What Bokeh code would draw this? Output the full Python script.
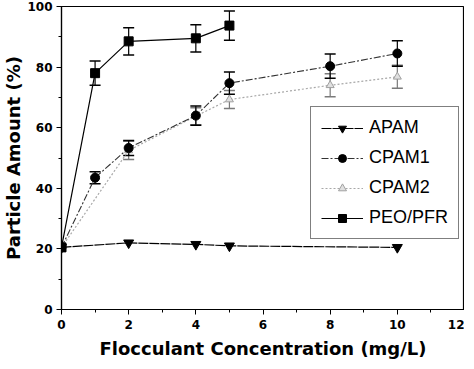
from bokeh.plotting import figure
from bokeh.models import (ColumnDataSource, Whisker, TeeHead, Legend, LegendItem,
                          SingleIntervalTicker, Range1d)
from bokeh.embed import file_html
from bokeh.resources import INLINE

# ---- data ----
x_apam = [0, 2, 4, 5, 10]
y_apam = [20.5, 22.0, 21.5, 21.0, 20.5]

x_cpam1 = [0, 1, 2, 4, 5, 8, 10]
y_cpam1 = [20.5, 43.5, 53.3, 64.0, 74.7, 80.3, 84.5]
e_cpam1 = [0, 2.0, 2.5, 3.2, 3.7, 4.0, 4.2]

x_cpam2 = [0, 2, 4, 5, 8, 10]
y_cpam2 = [20.5, 52.5, 63.8, 69.3, 74.0, 76.8]
e_cpam2 = [0, 3.0, 2.8, 3.0, 3.8, 3.8]

x_peo = [0, 1, 2, 4, 5]
y_peo = [20.5, 78.0, 88.5, 89.5, 93.7]
e_peo = [0, 4.0, 4.5, 4.5, 4.8]

labels = ["APAM", "CPAM1", "CPAM2", "PEO/PFR"]

FONT = "DejaVu Sans"

p = figure(width=464, height=361, output_backend="svg", toolbar_location=None,
           x_range=Range1d(0, 12), y_range=Range1d(0, 100),
           min_border_left=58, min_border_right=0, min_border_top=6, min_border_bottom=40)
p.xgrid.visible = False
p.ygrid.visible = False
p.outline_line_color = "black"
p.outline_line_width = 1.2
p.background_fill_color = "white"
p.border_fill_color = "white"

for ax, interval in ((p.xaxis[0], 2), (p.yaxis[0], 20)):
    ax.ticker = SingleIntervalTicker(interval=interval, num_minor_ticks=2)
    ax.axis_line_color = "black"
    ax.axis_line_width = 1.2
    ax.major_tick_line_color = "black"
    ax.minor_tick_line_color = "black"
    ax.major_tick_out = 5
    ax.major_tick_in = 0
    ax.minor_tick_out = 3
    ax.minor_tick_in = 0
    ax.major_label_text_font = FONT
    ax.major_label_text_font_style = "bold"
    ax.major_label_text_font_size = "12px"
    ax.major_label_text_color = "black"
    ax.axis_label_text_font = FONT
    ax.axis_label_text_font_style = "bold"
    ax.axis_label_text_color = "black"

p.xaxis.axis_label = "Flocculant Concentration (mg/L)"
p.xaxis.axis_label_text_font_size = "18px"
p.xaxis.major_label_standoff = 5
p.xaxis.axis_label_standoff = 6
p.yaxis.axis_label = "Particle Amount (%)"
p.yaxis.axis_label_text_font_size = "18px"
p.yaxis.major_label_standoff = 4
p.yaxis.axis_label_standoff = 0


def whiskers(xs, ys, es, color):
    xx = [x for x, e in zip(xs, es) if e > 0]
    lo = [y - e for y, e in zip(ys, es) if e > 0]
    hi = [y + e for y, e in zip(ys, es) if e > 0]
    src = ColumnDataSource(dict(x=xx, lower=lo, upper=hi))
    w = Whisker(base="x", lower="lower", upper="upper", source=src,
                line_color=color, line_width=1.2,
                upper_head=TeeHead(size=11, line_color=color, line_width=1.5),
                lower_head=TeeHead(size=11, line_color=color, line_width=1.5))
    p.add_layout(w)


whiskers(x_cpam2, y_cpam2, e_cpam2, "#7a7a7a")
whiskers(x_cpam1, y_cpam1, e_cpam1, "black")
whiskers(x_peo, y_peo, e_peo, "black")

l_cpam2 = p.line(x_cpam2, y_cpam2, line_color="#a8a8a8", line_width=1.2, line_dash="2 2")
m_cpam2 = p.scatter(x_cpam2, y_cpam2, marker="triangle", size=8, fill_color="#e0e0e0",
                    line_color="#a0a0a0", line_width=1)
l_cpam1 = p.line(x_cpam1, y_cpam1, line_color="#333333", line_width=1.1, line_dash="7 2 2 2")
m_cpam1 = p.scatter(x_cpam1, y_cpam1, marker="circle", size=9, fill_color="black",
                    line_color="black")
l_apam = p.line(x_apam, y_apam, line_color="black", line_width=1.2, line_dash="10 1")
m_apam = p.scatter(x_apam, y_apam, marker="inverted_triangle", size=10, fill_color="black",
                   line_color="black")
l_peo = p.line(x_peo, y_peo, line_color="black", line_width=1.2)
m_peo = p.scatter(x_peo, y_peo, marker="square", size=9, fill_color="black",
                  line_color="black")

items = [LegendItem(label=labels[0], renderers=[l_apam, m_apam]),
         LegendItem(label=labels[1], renderers=[l_cpam1, m_cpam1]),
         LegendItem(label=labels[2], renderers=[l_cpam2, m_cpam2]),
         LegendItem(label=labels[3], renderers=[l_peo, m_peo])]
legend = Legend(items=items, location=(249, 70),
                glyph_width=42, glyph_height=20, label_height=20, spacing=9,
                padding=10, label_standoff=6, margin=0,
                label_text_font="Liberation Sans", label_text_font_size="18px",
                label_text_color="black",
                border_line_color="black", border_line_width=1.2,
                background_fill_color="white", background_fill_alpha=1)
p.add_layout(legend, "center")

open("out.html", "w").write(file_html(p, INLINE))
